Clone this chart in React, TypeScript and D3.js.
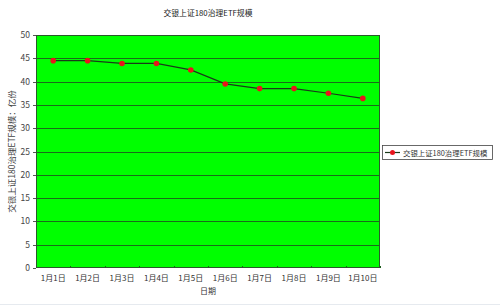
import React from "react";
import * as d3 from "d3";

const title = "交银上证180治理ETF规模";
const yAxisTitle = "交银上证180治理ETF规模：亿份";
const xAxisTitle = "日期";
const seriesName = "交银上证180治理ETF规模";
const categories = ["1月1日", "1月2日", "1月3日", "1月4日", "1月5日", "1月6日", "1月7日", "1月8日", "1月9日", "1月10日"];
const values = [44.5, 44.5, 43.9, 43.9, 42.5, 39.5, 38.5, 38.5, 37.5, 36.4];
const yTicks = [0, 5, 10, 15, 20, 25, 30, 35, 40, 45, 50];

const W = 500, H = 305;
const plot = { left: 36, right: 380, top: 35, bottom: 268 };
const font = "'Noto Sans CJK SC', 'DejaVu Sans', sans-serif";

export default function App() {
  const x = d3.scaleBand<string>().domain(categories).range([plot.left, plot.right]);
  const y = d3.scaleLinear().domain([0, 50]).range([plot.bottom, plot.top]);
  const line = d3.line<number>()
    .x((_, i) => (x(categories[i]) as number) + x.bandwidth() / 2)
    .y((d) => y(d));
  const cx = (plot.left + plot.right) / 2;
  const cy = (plot.top + plot.bottom) / 2;
  return (
    <svg width={W} height={H} style={{ position: "absolute", left: 0, top: 0, background: "#fff" }} fontFamily={font}>
      <rect x={0} y={0} width={W} height={H} fill="#fff" />
      <line x1={0} x2={W} y1={304.5} y2={304.5} stroke="#e6eaef" />
      <text x={cx} y={16} textAnchor="middle" fontSize={7.8} fill="#222">{title}</text>
      <rect x={plot.left} y={plot.top} width={plot.right - plot.left} height={plot.bottom - plot.top} fill="#00ff00" />
      {yTicks.map((t) => (
        <g key={t}>
          {t > 0 && t < 50 && (
            <line x1={plot.left} x2={plot.right} y1={Math.round(y(t)) + 0.5} y2={Math.round(y(t)) + 0.5} stroke="#1d5a1d" strokeWidth={0.9} />
          )}
          <line x1={plot.left - 3} x2={plot.left} y1={Math.round(y(t)) + 0.5} y2={Math.round(y(t)) + 0.5} stroke="#555" />
          <text x={plot.left - 6} y={y(t) + 3} textAnchor="end" fontSize={8.5} fill="#444">{t}</text>
        </g>
      ))}
      {categories.map((c) => (
        <g key={c}>
          <line x1={Math.round((x(c) as number) + x.bandwidth()) + 0.5} x2={Math.round((x(c) as number) + x.bandwidth()) + 0.5} y1={plot.bottom - 2} y2={plot.bottom} stroke="#1d5a1d" />
          <text x={(x(c) as number) + x.bandwidth() / 2} y={281} textAnchor="middle" fontSize={8} fill="#333">{c}</text>
        </g>
      ))}
      <rect x={plot.left + 0.5} y={plot.top + 0.5} width={plot.right - plot.left - 1} height={plot.bottom - plot.top - 1} fill="none" stroke="#2a5a2a" strokeWidth={1} />
      <path d={line(values) as string} fill="none" stroke="#1a3a1a" strokeWidth={1.2} />
      {values.map((v, i) => (
        <circle key={i} cx={(x(categories[i]) as number) + x.bandwidth() / 2} cy={y(v)} r={2.8} fill="#e8141c" />
      ))}
      <text x={cx} y={294} textAnchor="middle" fontSize={8} fill="#333">{xAxisTitle}</text>
      <text transform={`translate(15,${cy}) rotate(-90)`} textAnchor="middle" fontSize={8.5} fill="#444">{yAxisTitle}</text>
      <rect x={382.5} y={145.5} width={110} height={14} fill="#fff" stroke="#444" strokeWidth={0.8} />
      <line x1={385} x2={400} y1={152.5} y2={152.5} stroke="#1a3a1a" strokeWidth={1.2} />
      <circle cx={392.5} cy={152.5} r={2.5} fill="#e8141c" />
      <text x={403} y={155.5} fontSize={7.4} fill="#333">{seriesName}</text>
    </svg>
  );
}
